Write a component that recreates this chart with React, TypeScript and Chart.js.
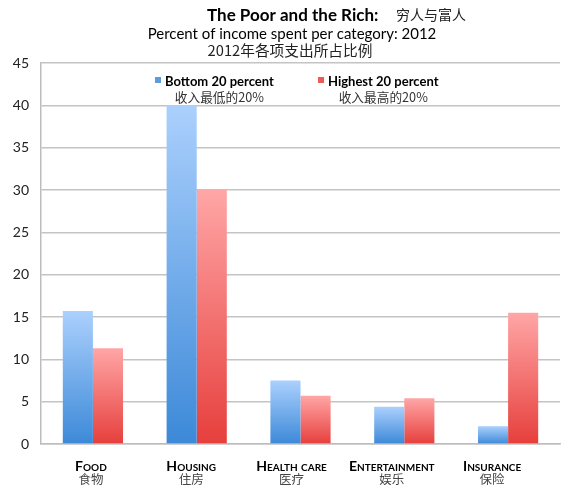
import React, { useEffect, useRef } from "react";
import { Chart, registerables } from "chart.js";

Chart.register(...registerables);

const categories = ["Food", "Housing", "Health care", "Entertainment", "Insurance"];
const categoriesZh = ["食物", "住房", "医疗", "娱乐", "保险"];
const seriesLabels = ["Bottom 20 percent", "Highest 20 percent"];
const seriesLabelsZh = ["收入最低的20%", "收入最高的20%"];
const bottom20 = [15.7, 40, 7.5, 4.4, 2.1];
const highest20 = [11.3, 30, 5.7, 5.4, 15.5];
const yMin = 0;
const yMax = 45;
const yStep = 5;

const titleEn = "The Poor and the Rich:";
const titleZh = "穷人与富人";
const subtitleEn = "Percent of income spent per category: 2012";
const subtitleZh = "2012年各项支出所占比例";

const gradients = [
  { top: "#abd0fd", bottom: "#3c89d8", solid: "#5b9be0" },
  { top: "#ffa6a6", bottom: "#e63f3c", solid: "#ee5a58" },
];

const LATIN = "Lato, 'Open Sans', sans-serif";
const CJK = "'Noto Sans CJK SC', sans-serif";

function gradientFor(idx: number) {
  return (c: any) => {
    const chart = c.chart;
    const g = gradients[idx];
    if (!chart.chartArea || c.type !== "data") return g.solid;
    const y = chart.scales.y;
    const top = y.getPixelForValue(c.raw);
    const base = y.getPixelForValue(0);
    if (!isFinite(top) || !isFinite(base) || top === base) return g.solid;
    const grad = chart.ctx.createLinearGradient(0, top, 0, base);
    grad.addColorStop(0, g.top);
    grad.addColorStop(1, g.bottom);
    return grad;
  };
}

const textPlugin = {
  id: "textPlugin",
  afterDraw(chart: any) {
    const ctx = chart.ctx;
    ctx.save();
    ctx.textBaseline = "alphabetic";
    // Title line
    ctx.textAlign = "left";
    ctx.fillStyle = "#000";
    ctx.font = `bold 17px ${LATIN}`;
    ctx.fillText(titleEn, 207, 21);
    ctx.fillStyle = "#222";
    ctx.font = `14px ${CJK}`;
    ctx.fillText(titleZh, 396, 20);
    // Subtitles
    ctx.textAlign = "center";
    ctx.fillStyle = "#000";
    ctx.font = `15px ${LATIN}`;
    ctx.fillText(subtitleEn, 292, 39);
    ctx.fillStyle = "#222";
    ctx.font = `14.7px ${CJK}`;
    ctx.fillText(subtitleZh, 290, 56);

    // Legend
    const legendX = [155, 318];
    chart.data.datasets.forEach((ds: any, i: number) => {
      const lx = legendX[i];
      ctx.fillStyle = gradients[i].solid;
      ctx.fillRect(lx, 77, 6, 6);
      ctx.textAlign = "left";
      ctx.fillStyle = "#000";
      ctx.font = `bold 13px ${LATIN}`;
      ctx.fillText(ds.label, lx + 10, 86);
      const tw = ctx.measureText(ds.label).width;
      ctx.fillStyle = "#333";
      ctx.font = `12.7px ${CJK}`;
      ctx.textAlign = "center";
      ctx.fillText(seriesLabelsZh[i], lx + 10 + tw / 2, 102);
    });

    // Category labels
    const xs = chart.scales.x;
    chart.data.labels.forEach((lab: string, i: number) => {
      const px = xs.getPixelForTick(i) - 2 - i * 3.5;
      ctx.textAlign = "center";
      ctx.fillStyle = "#000";
      ctx.font = `small-caps bold 14px ${LATIN}`;
      ctx.fillText(lab, px, 471);
      ctx.fillStyle = "#444";
      ctx.font = `12.5px ${CJK}`;
      ctx.fillText(categoriesZh[i], px, 484);
    });
    ctx.restore();
  },
};

export default function App() {
  const ref = useRef<HTMLCanvasElement | null>(null);
  useEffect(() => {
    if (!ref.current) return;
    const chart = new Chart(ref.current, {
      type: "bar",
      data: {
        labels: categories,
        datasets: [
          {
            label: seriesLabels[0],
            data: bottom20,
            backgroundColor: gradientFor(0),
            borderWidth: 0,
            barPercentage: 1,
            categoryPercentage: 0.58,
          },
          {
            label: seriesLabels[1],
            data: highest20,
            backgroundColor: gradientFor(1),
            borderWidth: 0,
            barPercentage: 1,
            categoryPercentage: 0.58,
          },
        ],
      },
      options: {
        responsive: false,
        animation: false,
        devicePixelRatio: 1,
        layout: { padding: { top: 63, right: 20, left: 0, bottom: 0 } },
        plugins: {
          legend: { display: false },
          title: { display: false },
          tooltip: { enabled: false },
        },
        scales: {
          x: {
            grid: { display: false },
            border: { display: true, color: "#bdbdbd", width: 1.5 },
            ticks: { display: false },
            afterFit: (s: any) => {
              s.height = 43;
            },
          },
          y: {
            min: yMin,
            max: yMax,
            grid: { color: "#c4c4c4", lineWidth: 1.5, drawTicks: false },
            border: { display: true, color: "#bdbdbd", width: 1.5 },
            ticks: {
              stepSize: yStep,
              padding: 12,
              color: "#222",
              font: { family: LATIN, size: 14 },
            },
            afterFit: (s: any) => {
              s.width = 41;
            },
          },
        },
      },
      plugins: [textPlugin],
    });
    return () => chart.destroy();
  }, []);
  return (
    <div style={{ position: "fixed", left: 0, top: 0, width: 580, height: 487, background: "#fff" }}>
      <canvas ref={ref} width={580} height={487} style={{ width: 580, height: 487, display: "block" }} />
    </div>
  );
}
